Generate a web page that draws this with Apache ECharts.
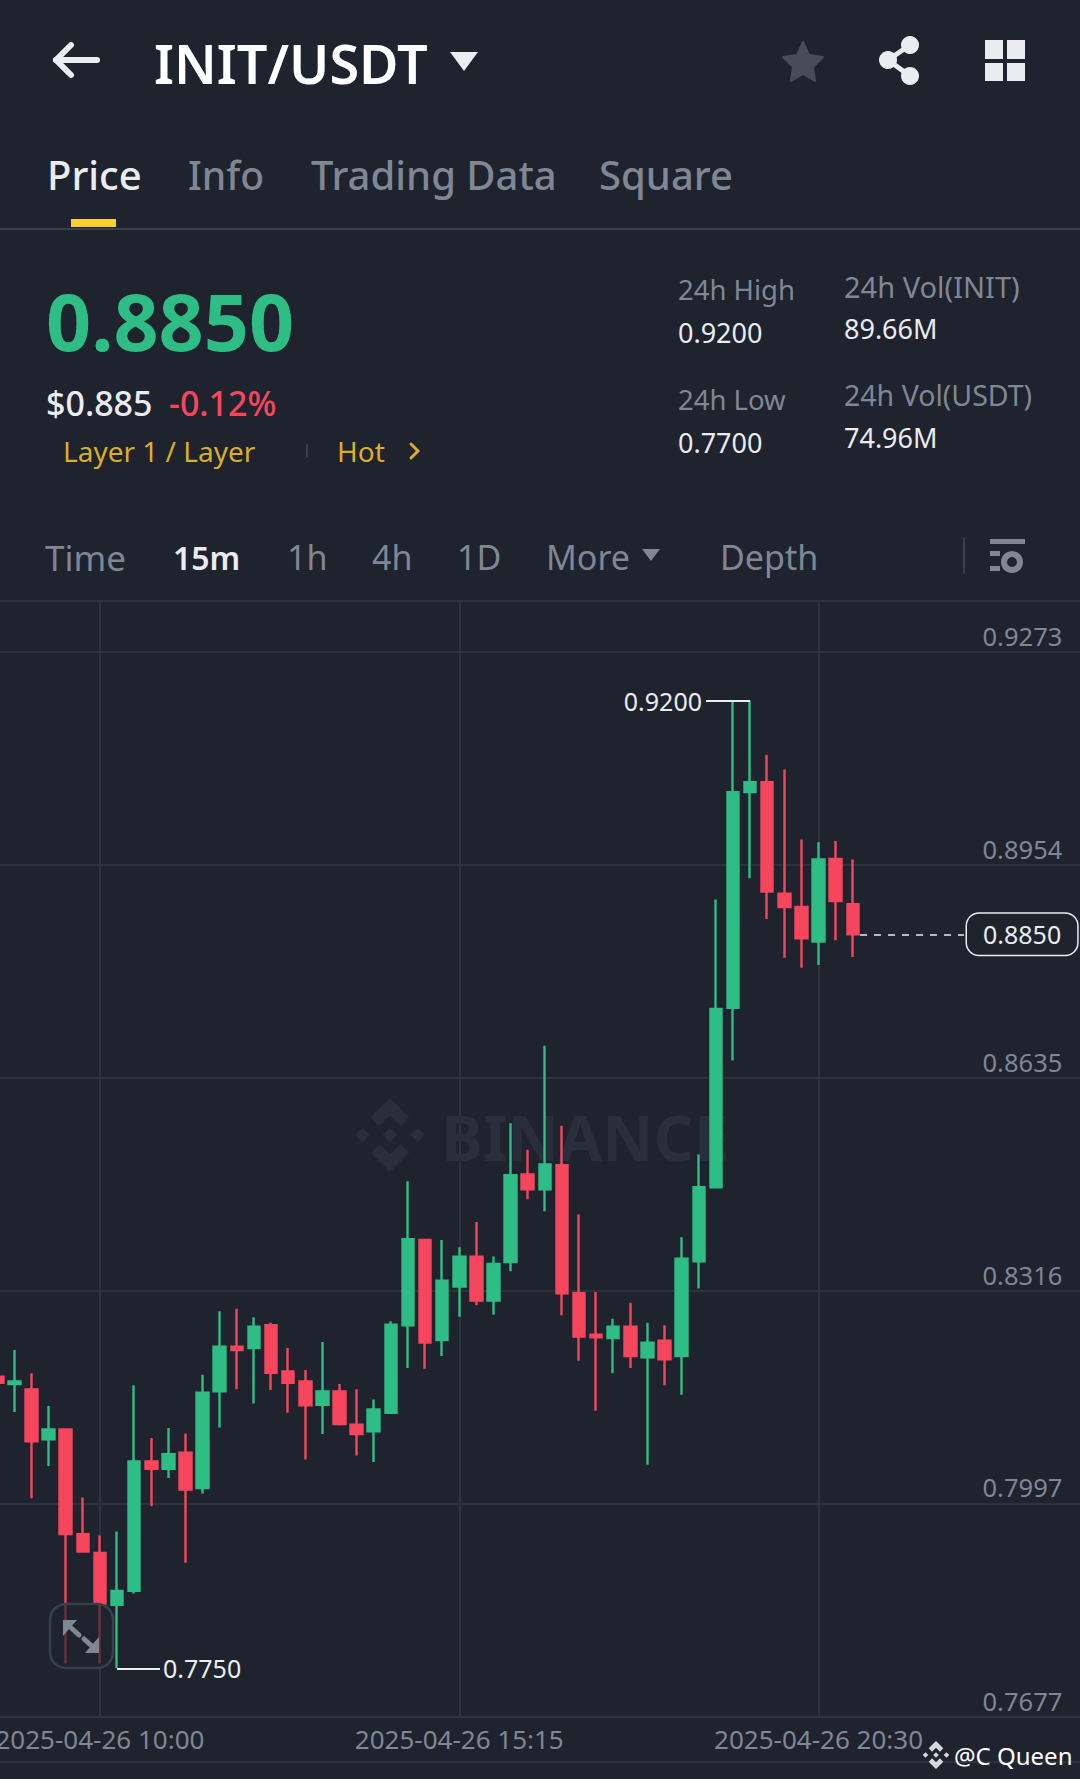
<!DOCTYPE html>
<html>
<head>
<meta charset="utf-8">
<title>INIT/USDT</title>
<script src="https://cdn.jsdelivr.net/npm/echarts@6/dist/echarts.min.js"></script>
<style>
  html, body { margin: 0; padding: 0; background: #1e232e; }
  #chart { width: 1080px; height: 1779px; }
</style>
</head>
<body>
<div id="chart"></div>
<script>
// 15m slots, the last ones stay empty (right side of the chart)
const times = [
    '08:30','08:45','09:00','09:15','09:30','09:45','10:00','10:15','10:30','10:45','11:00','11:15','11:30',
    '11:45','12:00','12:15','12:30','12:45','13:00','13:15','13:30','13:45','14:00','14:15','14:30','14:45',
    '15:00','15:15','15:30','15:45','16:00','16:15','16:30','16:45','17:00','17:15','17:30','17:45','18:00',
    '18:15','18:30','18:45','19:00','19:15','19:30','19:45','20:00','20:15','20:30','20:45','21:00','21:15',
    '21:30','21:45','22:00','22:15','22:30','22:45','23:00','23:15','23:30','23:45','00:00','00:15','00:30'
];
const opens = [
    0.8187,0.8176,0.8168,0.8093,0.8108,0.7951,0.7923,0.7845,0.7866,0.8060,0.8049,0.8073,0.8020,
    0.8165,0.8232,0.8230,0.8264,0.8195,0.8180,0.8145,0.8165,0.8115,0.8105,0.8133,0.8264,0.8392,
    0.8242,0.8322,0.8367,0.8301,0.8359,0.8490,0.8468,0.8504,0.8312,0.8250,0.8245,0.8262,0.8216,
    0.8241,0.8218,0.8360,0.8471,0.8740,0.9063,0.9078,0.8911,0.8891,0.8839,0.8963,0.8895
];
const closes = [
    0.8178,0.8180,0.8090,0.8108,0.7951,0.7925,0.7847,0.7866,0.8060,0.8049,0.8071,0.8018,0.8163,
    0.8232,0.8227,0.8262,0.8193,0.8178,0.8144,0.8165,0.8116,0.8101,0.8138,0.8265,0.8393,0.8238,
    0.8331,0.8367,0.8301,0.8356,0.8489,0.8468,0.8505,0.8312,0.8247,0.8246,0.8262,0.8218,0.8238,
    0.8213,0.8364,0.8471,0.8738,0.9063,0.9078,0.8914,0.8891,0.8844,0.8962,0.8900,0.8850
];
const lows = [
    0.8177,0.8134,0.8005,0.8053,0.7757,0.7923,0.7757,0.7750,0.7862,0.7993,0.8035,0.7908,0.8012,
    0.8111,0.8168,0.8147,0.8167,0.8133,0.8063,0.8101,0.8114,0.8069,0.8059,0.8132,0.8200,0.8199,
    0.8218,0.8277,0.8294,0.8280,0.8345,0.8453,0.8435,0.8279,0.8211,0.8136,0.8192,0.8200,0.8055,
    0.8174,0.8160,0.8319,0.8469,0.8661,0.8934,0.8873,0.8815,0.8800,0.8804,0.8841,0.8816
];
const highs = [
    0.8188,0.8227,0.8192,0.8143,0.8108,0.8006,0.7949,0.7955,0.8174,0.8095,0.8110,0.8102,0.8190,
    0.8285,0.8289,0.8276,0.8268,0.8230,0.8197,0.8239,0.8176,0.8168,0.8153,0.8270,0.8480,0.8392,
    0.8392,0.8381,0.8419,0.8367,0.8567,0.8527,0.8683,0.8563,0.8430,0.8314,0.8274,0.8298,0.8268,
    0.8264,0.8396,0.8520,0.8902,0.9200,0.9200,0.9119,0.9097,0.8992,0.8988,0.8990,0.8962
];
const priceTicks = [0.7677, 0.7997, 0.8316, 0.8635, 0.8954, 0.9273];
const timeTicks = ['10:00', '15:15', '20:30'];
const datePrefix = '2025-04-26';
const lastPrice = 0.885;
const highMark = { time: '19:30', value: 0.92 };
const lowMark = { time: '10:15', value: 0.775 };

const BG = '#1e232e';
const GREEN = '#2ebd85';
const RED = '#f6465d';
const GRID = '#313743';
const GREY = '#7f8794';
const FONT = '"Noto Sans"';

const candles = opens.map((o, i) => [o, closes[i], lows[i], highs[i]]);

// textos de la interfaz: [texto, x, y, tamano, color, peso]
const uiTexts = [
    ['INIT/USDT', 154, 63, 54, '#ffffff', 600],
    ['Price', 47, 174, 40, '#eaecef', 500],
    ['Info', 188, 174, 39, GREY, 500],
    ['Trading Data', 311, 174, 40, GREY, 500],
    ['Square', 599, 174, 40, GREY, 500],
    ['0.8850', 46, 320, 79, GREEN, 700],
    ['$0.885', 46, 403, 34, '#eaecef', 500],
    ['-0.12%', 169, 403, 34, RED, 500],
    ['Layer 1 / Layer', 63, 451, 28, '#d9ae2b', 400],
    ['Hot', 337, 451, 28, '#d9ae2b', 400],
    ['24h High', 678, 289, 27.5, GREY, 400],
    ['0.9200', 678, 332, 27, '#eaecef', 400],
    ['24h Vol(INIT)', 844, 286, 29, GREY, 400],
    ['89.66M', 844, 328, 27, '#eaecef', 400],
    ['24h Low', 678, 399, 27.5, GREY, 400],
    ['0.7700', 678, 442, 27, '#eaecef', 400],
    ['24h Vol(USDT)', 844, 395, 28.5, GREY, 400],
    ['74.96M', 844, 437, 27, '#eaecef', 400],
    ['Time', 45, 557, 35, GREY, 400],
    ['15m', 173, 557, 32, '#eaecef', 600],
    ['1h', 287, 557, 34, GREY, 400],
    ['4h', 372, 557, 34, GREY, 400],
    ['1D', 457, 557, 34, GREY, 400],
    ['More', 546, 557, 34, GREY, 400],
    ['Depth', 720, 557, 34, GREY, 400],
    ['@C Queen', 954, 1755, 24, '#ffffff', 400]
];

function uiText(t) {
    return {
        type: 'text', z: 50,
        style: {
            text: t[0], x: t[1], y: t[2], fill: t[4],
            fontFamily: FONT, fontSize: t[3], fontWeight: t[5],
            textVerticalAlign: 'middle', textAlign: 'left'
        }
    };
}

function poly(points, fill, z) {
    return { type: 'polygon', z: z || 50, shape: { points: points }, style: { fill: fill } };
}

function hline(x1, y1, x2, y2, color, width, z) {
    return {
        type: 'line', z: z || 50,
        shape: { x1: x1, y1: y1, x2: x2, y2: y2 },
        style: { stroke: color, lineWidth: width, lineCap: 'round' }
    };
}

function rect(x, y, w, h, fill, z) {
    return { type: 'rect', z: z || 50, shape: { x: x, y: y, width: w, height: h }, style: { fill: fill } };
}

// Logo de Binance: rombos y chevrones alrededor de un centro
function logo(cx, cy, s, fill, z) {
    const shapes = [
        [[0, -0.2], [0.2, 0], [0, 0.2], [-0.2, 0]],
        [[-0.75, -0.2], [-0.55, 0], [-0.75, 0.2], [-0.95, 0]],
        [[0.75, -0.2], [0.95, 0], [0.75, 0.2], [0.55, 0]],
        [[0, -1], [0.52, -0.48], [0.28, -0.24], [0, -0.52], [-0.28, -0.24], [-0.52, -0.48]],
        [[0, 1], [0.52, 0.48], [0.28, 0.24], [0, 0.52], [-0.28, 0.24], [-0.52, 0.48]]
    ];
    return shapes.map(p => poly(p.map(q => [cx + q[0] * s, cy + q[1] * s]), fill, z));
}

const chrome = [
    // lineas de separacion
    hline(0, 229, 1080, 229, '#3a404b', 2, 1),
    hline(0, 601, 1080, 601, GRID, 1.6, 1),
    hline(0, 1762, 1080, 1762, GRID, 1.6, 1),
    rect(71, 219, 45, 8, '#f8d12f'),
    // flecha atras
    hline(56, 60, 97, 60, '#eaecef', 6),
    hline(56, 60, 71, 45, '#eaecef', 6),
    hline(56, 60, 71, 75, '#eaecef', 6),
    poly([[450, 52], [478, 52], [464, 71]], '#eaecef'),
    // estrella
    {
        type: 'polygon', z: 50,
        shape: { points: [[803, 42], [809, 55], [823, 57], [813, 67], [815, 81], [803, 74], [791, 81], [793, 67], [783, 57], [797, 55]] },
        style: { fill: '#474d57', stroke: '#474d57', lineWidth: 2, lineJoin: 'round' }
    },
    // compartir
    hline(888, 60, 910, 45, '#eaecef', 5),
    hline(888, 60, 910, 76, '#eaecef', 5),
    { type: 'circle', z: 50, shape: { cx: 888, cy: 60, r: 9 }, style: { fill: '#eaecef' } },
    { type: 'circle', z: 50, shape: { cx: 910, cy: 45, r: 9 }, style: { fill: '#eaecef' } },
    { type: 'circle', z: 50, shape: { cx: 910, cy: 76, r: 9 }, style: { fill: '#eaecef' } },
    // cuadricula
    rect(985, 40, 18, 19, '#eaecef'),
    rect(1007, 40, 18, 19, '#eaecef'),
    rect(985, 63, 18, 18, '#eaecef'),
    rect(1007, 63, 18, 18, '#eaecef'),
    // etiqueta Hot
    hline(307, 445, 307, 457, '#3a404b', 2),
    hline(411, 444, 418, 451, '#d9ae2b', 3),
    hline(418, 451, 411, 458, '#d9ae2b', 3),
    // barra de intervalos
    poly([[642, 549], [660, 549], [651, 561]], GREY),
    hline(964, 538, 964, 573, '#3a404b', 2),
    rect(990, 539, 35, 5, GREY),
    rect(990, 551, 10, 5, GREY),
    rect(990, 566, 10, 5, GREY),
    { type: 'circle', z: 50, shape: { cx: 1012, cy: 562, r: 8 }, style: { fill: BG, stroke: GREY, lineWidth: 6 } },
    // marca de agua, por debajo de las velas
    {
        type: 'text', z: 1,
        style: {
            text: 'BINANCE', x: 441, y: 1136, fill: '#292f3a',
            fontFamily: FONT, fontSize: 63, fontWeight: 700,
            textVerticalAlign: 'middle'
        }
    },
    ...logo(390, 1135, 37, '#292f3a', 1),
    // boton de ampliar, semitransparente encima de las velas
    {
        type: 'rect', z: 60,
        shape: { x: 50, y: 1604, width: 63, height: 64, r: 16 },
        style: { fill: 'rgba(30,35,46,0.65)', stroke: '#3a404b', lineWidth: 2.5 }
    },
    poly([[63, 1620], [77, 1620], [63, 1636]], GREY, 61),
    hline(68, 1625, 79, 1635, GREY, 5, 61),
    poly([[99, 1653], [85, 1653], [99, 1637]], GREY, 61),
    hline(94, 1648, 84, 1639, GREY, 5, 61),
    // firma
    ...logo(936, 1755, 14, '#d5d8dc', 50),
    ...uiTexts.map(uiText)
];

const option = {
    backgroundColor: BG,
    animation: false,
    graphic: { elements: chrome },
    // el primer y el ultimo hueco quedan fuera de la ventana, igual que en la captura
    grid: { left: -2.7, right: -12.3, top: 602, height: 1115, outerBoundsMode: 'none' },
    xAxis: {
        type: 'category',
        boundaryGap: false,
        data: times,
        axisLine: { lineStyle: { color: GRID, width: 1.6 } },
        axisTick: { show: false },
        axisLabel: {
            interval: (i, v) => timeTicks.includes(v),
            formatter: v => `${datePrefix} ${v}`,
            color: GREY,
            fontFamily: FONT,
            fontSize: 26,
            margin: 9
        },
        splitLine: {
            show: true,
            interval: (i, v) => timeTicks.includes(v),
            lineStyle: { color: GRID, width: 1.6 }
        }
    },
    yAxis: {
        type: 'value',
        position: 'right',
        min: 0.7677,
        max: 0.9348,
        axisLine: { show: false },
        axisTick: { show: false, customValues: priceTicks },
        axisLabel: {
            customValues: priceTicks,
            inside: true,
            margin: 30,
            verticalAlign: 'bottom',
            padding: [0, 0, 3, 0],
            formatter: v => v.toFixed(4),
            color: GREY,
            fontFamily: FONT,
            fontSize: 25.5
        },
        splitLine: { show: true, lineStyle: { color: GRID, width: 1.6 } }
    },
    series: [{
        type: 'candlestick',
        data: candles,
        barWidth: 12,
        itemStyle: { color: GREEN, borderColor: GREEN, color0: RED, borderColor0: RED, borderWidth: 2.4 },
        markLine: {
            silent: true,
            symbol: 'none',
            animation: false,
            label: { show: true, color: '#eaecef', fontFamily: FONT, fontSize: 25 },
            lineStyle: { color: '#eaecef', type: 'solid', width: 2 },
            data: [
                [
                    { coord: [highMark.time, highMark.value], x: 706, label: { position: 'start', formatter: highMark.value.toFixed(4), distance: 4 } },
                    { coord: [highMark.time, highMark.value] }
                ],
                [
                    { coord: [lowMark.time, lowMark.value], label: { position: 'end', formatter: lowMark.value.toFixed(4), distance: 3 } },
                    { coord: [lowMark.time, lowMark.value], x: 160 }
                ],
                [
                    {
                        coord: [times[opens.length - 1], lastPrice], x: 860,
                        lineStyle: { type: [7, 7], width: 1.5 },
                        label: {
                            position: 'end', distance: 3,
                            formatter: lastPrice.toFixed(4),
                            backgroundColor: BG, borderColor: '#eaecef', borderWidth: 1.5, borderRadius: 12,
                            padding: [11, 16, 5, 16]
                        }
                    },
                    { coord: [times[opens.length - 1], lastPrice], x: 964 }
                ]
            ]
        }
    }]
};

const chart = echarts.init(document.getElementById('chart'), null, { renderer: 'svg' });
chart.setOption(option);
</script>
</body>
</html>
